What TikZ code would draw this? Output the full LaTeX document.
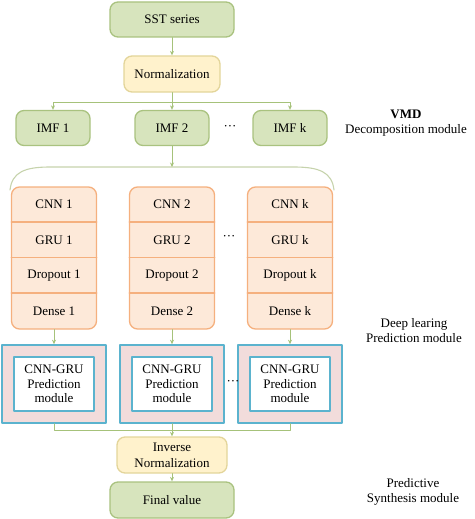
\documentclass[tikz,border=0pt]{standalone}
\usepackage{fontspec}
\setmainfont{Liberation Serif}
\usetikzlibrary{arrows.meta}
\definecolor{greenfill}{HTML}{D7E4BD}
\definecolor{greenline}{HTML}{A9C27F}
\definecolor{yelfill}{HTML}{FFF2CC}
\definecolor{yelline}{HTML}{E3D59A}
\definecolor{orfill}{HTML}{FDE9D9}
\definecolor{orline}{HTML}{F5B07E}
\definecolor{pinkfill}{HTML}{F2DCDB}
\definecolor{blueline}{HTML}{5BB3CE}
\definecolor{linkcol}{HTML}{A6C27A}
\definecolor{bracketcol}{HTML}{C6D3AC}
\begin{document}
\begin{tikzpicture}[line cap=round,line join=round,>={Stealth[length=4.5pt,width=4pt]},x=1pt,y=-1pt,
  font=\fontsize{13}{15}\selectfont,
  gbox/.style={draw=greenline,fill=greenfill,line width=1.3pt,rounded corners=8pt,minimum width=#1,minimum height=35pt},
  ybox/.style={draw=yelline,fill=yelfill,line width=1.3pt,rounded corners=8pt,minimum width=#1,minimum height=36pt,align=center},
  link/.style={draw=linkcol,line width=0.9pt}]
\useasboundingbox (0,0) rectangle (474,519);
% input and decomposition
\node[gbox=124pt] (sst) at (172,19.5) {SST series};
\node[ybox=96pt] (norm) at (172,74) {Normalization};
\coordinate (split) at (172,102);
\foreach \n/\cx in {1/53,2/172,k/290}
{
\node[gbox=74pt] (imf\n) at (\cx,128) {IMF \n};
}
\node at (230,128) {···};
\draw[link,->] (sst) -- (norm);
\draw[link,->] (norm) -- (imf2);
\draw[link,->] (split) -| (imf1.north);
\draw[link,->] (split) -| (imfk.north);
% bracket over the networks
\coordinate (brtop) at (172,167);
\draw[bracketcol,line width=1.1pt] (10,190) .. controls (12,172) and (25,167) .. (50,167) -- (294,167) .. controls (319,167) and (332,172) .. (334,190);
\draw[link,->] (imf2) -- (brtop);
% CNN-GRU columns
\foreach \n/\cx in {1/54,2/172,k/290}
{
\node[draw=orline,fill=orfill,line width=1.3pt,rounded corners=8pt,minimum width=85pt,minimum height=142pt] (col\n) at (\cx,258) {};
\node[minimum width=85pt,minimum height=35.5pt] (cnn\n) at (\cx,204.5) {CNN \n};
\node[minimum width=85pt,minimum height=35.5pt] (gru\n) at (\cx,240) {GRU \n};
\node[minimum width=85pt,minimum height=35.5pt] (drop\n) at (\cx,275.5) {Dropout \n};
\node[minimum width=85pt,minimum height=35.5pt] (dense\n) at (\cx,311) {Dense \n};
\draw[orline,line width=1.3pt] (gru\n.north west) -- (gru\n.north east);
\draw[orline,line width=1.3pt] (drop\n.north west) -- (drop\n.north east);
\draw[orline,line width=1.3pt] (dense\n.north west) -- (dense\n.north east);
\node[draw=blueline,fill=pinkfill,line width=1.6pt,minimum width=104pt,minimum height=78pt] (pink\n) at (\cx,384) {};
\node[draw=blueline,fill=white,line width=1.1pt,minimum width=80pt,minimum height=54pt,align=center,font=\fontsize{13}{14.5}\selectfont] (pred\n) at (\cx,384) {CNN-GRU\\Prediction\\module};
\draw[link,->] (col\n) -- (pink\n);
}
\node at (229,238) {···};
\node at (233,383) {···};
% synthesis
\coordinate (merge) at (172,430);
\node[ybox=110pt,font=\fontsize{13}{16}\selectfont] (inv) at (172,455) {Inverse\\Normalization};
\node[gbox=124pt,minimum height=36pt] (final) at (172,500) {Final value};
\draw[link] (pink1) |- (merge);
\draw[link] (pinkk) |- (merge);
\draw[link] (pink2) -- (merge);
\draw[link,->] (merge) -- (inv);
\draw[link,->] (inv) -- (final);
% module labels
\node[align=center] at (406,123.5) {\textbf{VMD}\\Decomposition module};
\node[align=center] at (414,330.5) {Deep learing\\Prediction module};
\node[align=center] at (413,491.5) {Predictive\\Synthesis module};
\end{tikzpicture}
\end{document}
